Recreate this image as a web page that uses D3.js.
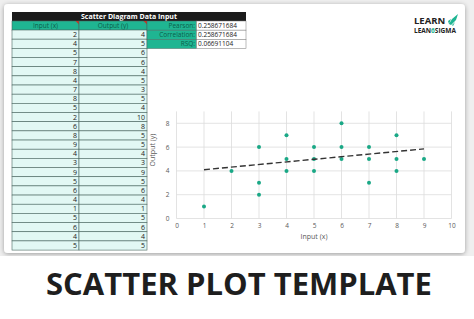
<!DOCTYPE html>
<html><head><meta charset="utf-8">
<script src="https://cdn.jsdelivr.net/npm/d3@7"></script>
<style>
html,body{margin:0;padding:0;background:#fff;}
svg{display:block;}
</style></head>
<body>
<svg id="c" width="474" height="319"></svg>
<script>
// ---- data ----
const tableInput  = [2,4,5,7,8,4,7,8,5,2,6,8,9,4,3,9,5,6,4,1,5,6,4,5];
const tableOutput = [4,5,6,6,4,5,3,5,4,10,8,5,5,4,3,9,5,6,4,1,5,6,4,5];
const statLabels = ["Pearson:", "Correlation:", "RSQ:"];
const statValues = ["0.258671684", "0.258671684", "0.06691104"];
const plotX = [1,2,3,3,3,4,4,4,5,5,5,6,6,6,7,7,7,8,8,8,9];
const plotY = [1,4,2,3,6,4,5,7,4,5,6,5,6,8,3,5,6,4,5,7,5];
const trendX = [1,9];
const trendY = [4.1,5.85];
const xTicks = [0,1,2,3,4,5,6,7,8,9,10];
const yTicks = [0,2,4,6,8];

const svg = d3.select("#c");
const F = "'Open Sans', 'Noto Sans', sans-serif";

// ---- background / panel ----
const defs = svg.append("defs");
const f = defs.append("filter").attr("id","sh").attr("x","-5%").attr("y","-5%").attr("width","110%").attr("height","110%");
f.append("feGaussianBlur").attr("in","SourceAlpha").attr("stdDeviation",2.5);
f.append("feOffset").attr("dx",0).attr("dy",1).attr("result","b");
f.append("feComponentTransfer").append("feFuncA").attr("type","linear").attr("slope",0.35);
const m = f.append("feMerge"); m.append("feMergeNode"); m.append("feMergeNode").attr("in","SourceGraphic");

svg.append("rect").attr("width",474).attr("height",258).attr("fill","#efefef");
svg.append("rect").attr("x",4).attr("y",4).attr("width",461).attr("height",249).attr("rx",4)
  .attr("fill","#fff").attr("filter","url(#sh)");
svg.append("rect").attr("x",0).attr("y",256).attr("width",474).attr("height",63).attr("fill","#fff");

// ---- table ----
const tx0 = 12, c1 = 79, c2 = 147, c3 = 196.5, c4 = 246;
const yHead = 12, yCol = 21, yRow0 = 30, rowH = 9.17;
const border = "#4a6660";
const teal = "#1fb592";
const g = svg.append("g");

g.append("rect").attr("x",tx0).attr("y",yHead).attr("width",c4-tx0).attr("height",yCol-yHead).attr("fill","#1b1b1b");
g.append("text").attr("x",(tx0+c4)/2).attr("y",yHead+7).attr("text-anchor","middle")
  .attr("font-family",F).attr("font-weight",700).attr("font-size",7).attr("fill","#fff")
  .text("Scatter Diagram Data Input");

// column headers
[[tx0,c1,"Input (x)"],[c1,c2,"Output (y)"]].forEach(([a,b,t])=>{
  g.append("rect").attr("x",a).attr("y",yCol).attr("width",b-a).attr("height",rowH).attr("fill",teal)
    .attr("stroke",border).attr("stroke-width",0.6);
  g.append("text").attr("x",(a+b)/2).attr("y",yCol+6.8).attr("text-anchor","middle")
    .attr("font-family",F).attr("font-size",6.5).attr("fill","#0b5e4a").text(t);
  g.append("path").attr("d",`M${b-3.5},${yCol} L${b},${yCol} L${b},${yCol+3.5} Z`).attr("fill","#c0392b");
});

// rows
const rows = g.selectAll("g.row").data(tableInput.map((d,i)=>[d,tableOutput[i]])).join("g")
  .attr("transform",(d,i)=>`translate(0,${yRow0+i*rowH})`);
rows.append("rect").attr("x",tx0).attr("width",c1-tx0).attr("height",rowH).attr("fill","#e2f8f4").attr("stroke",border).attr("stroke-width",0.6);
rows.append("rect").attr("x",c1).attr("width",c2-c1).attr("height",rowH).attr("fill","#e2f8f4").attr("stroke",border).attr("stroke-width",0.6);
rows.append("text").attr("x",c1-2).attr("y",7).attr("text-anchor","end").attr("font-family",F).attr("font-size",7).attr("fill","#222").text(d=>d[0]);
rows.append("text").attr("x",c2-2).attr("y",7).attr("text-anchor","end").attr("font-family",F).attr("font-size",7).attr("fill","#222").text(d=>d[1]);

// stats
statLabels.forEach((l,i)=>{
  const y = yCol + i*rowH;
  g.append("rect").attr("x",c2).attr("y",y).attr("width",c3-c2).attr("height",rowH).attr("fill",teal).attr("stroke",border).attr("stroke-width",0.5);
  g.append("rect").attr("x",c3).attr("y",y).attr("width",c4-c3).attr("height",rowH).attr("fill","#fff").attr("stroke","#777").attr("stroke-width",0.5);
  g.append("text").attr("x",c3-1.5).attr("y",y+6.8).attr("text-anchor","end").attr("font-family",F).attr("font-size",6.5).attr("fill","#0b5e4a").text(l);
  g.append("text").attr("x",c3+1.5).attr("y",y+6.8).attr("font-family",F).attr("font-size",6.5).attr("fill","#222").text(statValues[i]);
});

// ---- chart ----
const x = d3.scaleLinear().domain([0,10]).range([176.5,451.5]);
const y = d3.scaleLinear().domain([0,9]).range([218.5,111.4]);
const ch = svg.append("g");
ch.selectAll("line.vg").data(xTicks).join("line")
  .attr("x1",d=>x(d)).attr("x2",d=>x(d)).attr("y1",y(0)).attr("y2",y(9))
  .attr("stroke","#dcdcdc").attr("stroke-width",0.8);
ch.selectAll("line.hg").data(yTicks).join("line")
  .attr("x1",x(0)).attr("x2",x(10)).attr("y1",d=>y(d)).attr("y2",d=>y(d))
  .attr("stroke","#dcdcdc").attr("stroke-width",0.8);

const xa = ch.append("g").attr("transform",`translate(0,${y(0)})`)
  .call(d3.axisBottom(x).tickValues(xTicks).tickSize(0).tickPadding(5));
xa.select(".domain").remove();
xa.selectAll("text").attr("font-family",F).attr("font-size",6.5).attr("fill","#595959");
const ya = ch.append("g").attr("transform",`translate(${x(0)},0)`)
  .call(d3.axisLeft(y).tickValues(yTicks).tickSize(0).tickPadding(7));
ya.select(".domain").remove();
ya.selectAll("text").attr("font-family",F).attr("font-size",6.5).attr("fill","#595959");

ch.append("text").attr("x",x(5)).attr("y",239).attr("text-anchor","middle")
  .attr("font-family",F).attr("font-size",7).attr("fill","#595959").text("Input (x)");
ch.append("text").attr("transform","translate(155,150) rotate(-90)").attr("text-anchor","middle")
  .attr("font-family",F).attr("font-size",7).attr("fill","#595959").text("Output (y)");

ch.selectAll("circle").data(plotX.map((d,i)=>[d,plotY[i]])).join("circle")
  .attr("cx",d=>x(d[0])).attr("cy",d=>y(d[1])).attr("r",2).attr("fill","#1aa886");

ch.append("path").datum(trendX.map((d,i)=>[d,trendY[i]]))
  .attr("d",d3.line().x(d=>x(d[0])).y(d=>y(d[1])))
  .attr("stroke","#333").attr("stroke-width",1.4).attr("stroke-dasharray","6,3").attr("fill","none");

// ---- logo ----
const lg = svg.append("g");
lg.append("text").attr("x",414).attr("y",24).attr("font-family",F).attr("font-weight",700).attr("font-size",9.5).attr("fill","#222").text("LEARN");
lg.append("path").attr("d","M449,24 L452,19 L458,14 L456,20 L451,25 Z M448,21 L451,19 L449,24 Z M452,25 L455,22 L453,26 Z").attr("fill","#1fb592");
const t2 = lg.append("text").attr("x",414).attr("y",33).attr("font-family",F).attr("font-weight",700).attr("font-size",6.5).attr("fill","#222");
t2.append("tspan").text("LEAN");
t2.append("tspan").attr("fill","#1fb592").text("6");
t2.append("tspan").text("SIGMA");

// ---- title ----
svg.append("text").attr("x",239).attr("y",295).attr("text-anchor","middle")
  .attr("font-family",F).attr("font-weight",700).attr("font-size",31).attr("fill","#1e1e1e")
  .text("SCATTER PLOT TEMPLATE");
</script>
</body></html>
